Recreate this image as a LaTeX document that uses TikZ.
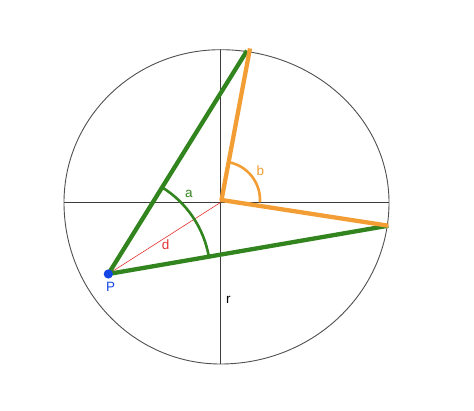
\documentclass[tikz,border=0pt]{standalone}
\usepackage{fontspec}
\setmainfont{Liberation Sans}
\definecolor{gr}{RGB}{50,132,30}
\definecolor{org}{RGB}{242,158,52}
\definecolor{rd}{RGB}{228,50,50}
\definecolor{bl}{RGB}{20,70,230}
\definecolor{ax}{RGB}{60,60,60}
\begin{document}
\begin{tikzpicture}[x=1pt,y=1pt,
  axis/.style={draw=ax,line width=1pt},
  rim/.style={draw=ax!90,line width=0.9pt},
  gline/.style={draw=gr,line width=4.3pt},
  oline/.style={draw=org,line width=4.3pt},
  garc/.style={draw=gr,line width=2.6pt},
  oarc/.style={draw=org,line width=2.6pt},
  lbl/.style={font=\fontsize{13.5}{15}\selectfont,inner sep=0pt}]
\useasboundingbox (0,0) rectangle (474,410);
\fill[white] (0,0) rectangle (474,410);
% coordinates
\coordinate (O) at (220.5,207.5);
\coordinate (L) at (64,207.5);
\coordinate (E) at (389,207.5);
\coordinate (N) at (220.5,360.3);
\coordinate (S) at (220.5,46);
\coordinate (P) at (108.3,136);
\coordinate (T) at (247,359.3);
\coordinate (T2) at (250,361.5);
\coordinate (R) at (388.3,184.3);
\coordinate (V) at (221.5,210);
% axes
\draw[axis] (L) -- (E);
\draw[axis] (N) -- (S);
% rim
\draw[rim] (E) arc[start angle=0,end angle=90,x radius=168.5,y radius=152.8]
  arc[start angle=90,end angle=180,x radius=156.5,y radius=152.8]
  arc[start angle=180,end angle=270,x radius=156.5,y radius=161.5]
  arc[start angle=270,end angle=360,x radius=168.5,y radius=161.5];
% red distance
\draw[rd,line width=0.6pt] (P) -- (O);
% green triangle sides
\draw[gline] (P) -- (T);
\draw[gline] (P) -- (R);
% orange
\draw[oline,line join=round] (T2) -- (V) -- (R);
% angle arcs
\draw[garc] ([shift={(9.79:102)}]P) arc[start angle=9.79,end angle=58.15,radius=102];
\draw[oarc] ([shift={(-3.5:38.5)}]V) arc[start angle=-3.5,end angle=79.35,radius=38.5];
% point P
\fill[bl] (P) circle[radius=4.6];
% labels
\node[lbl,text=gr] (la) at (189,216.5) {a};
\node[lbl,text=org] (lb) at (260.3,239.3) {b};
\node[lbl,text=rd] (ld) at (165.7,165.5) {d};
\node[lbl,text=bl] (lp) at (110.7,122.7) {P};
\node[lbl,text=black] (lr) at (228.3,110) {r};
\end{tikzpicture}
\end{document}
